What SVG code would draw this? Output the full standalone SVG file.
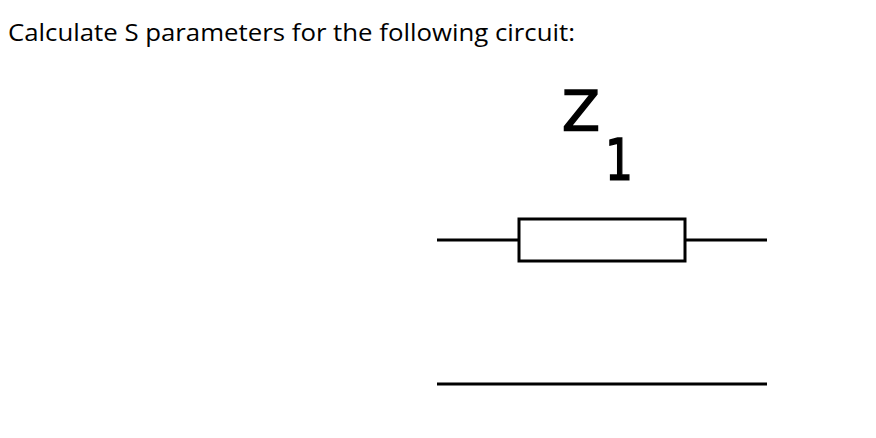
<svg xmlns="http://www.w3.org/2000/svg" width="876" height="438" viewBox="0 0 876 438">
<style>
.w{stroke:#000;stroke-width:3;fill:none}
.t{font-family:"Open Sans","Liberation Sans",sans-serif;fill:#000}
.z{font-family:"DejaVu Sans","Liberation Sans",sans-serif;fill:#000;stroke:#000;stroke-width:1.5}
</style>
<rect width="876" height="438" fill="#fff"/>
<text class="t" x="8" y="41" font-size="24" textLength="567" lengthAdjust="spacingAndGlyphs">Calculate S parameters for the following circuit:</text>
<g id="label">
<text class="z" x="562" y="130" font-size="55" textLength="38" lengthAdjust="spacingAndGlyphs">Z</text>
<text class="z" x="605" y="180" font-size="57" textLength="28" lengthAdjust="spacingAndGlyphs">1</text>
</g>
<g id="resistor"><rect class="w" x="519" y="219" width="166" height="42"/></g>
<g id="wires">
<line class="w" x1="437" y1="240" x2="519" y2="240"/>
<line class="w" x1="685" y1="240" x2="767" y2="240"/>
<line class="w" x1="437" y1="384" x2="767" y2="384"/>
</g>
</svg>
